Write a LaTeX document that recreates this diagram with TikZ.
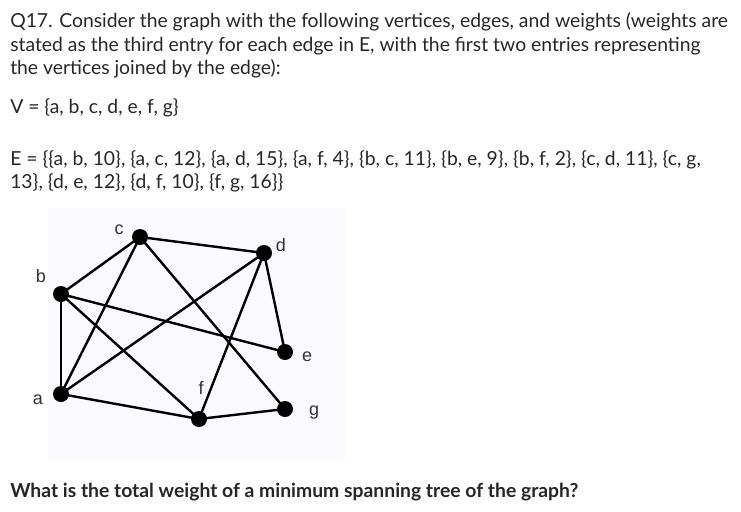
\documentclass[tikz,border=0pt]{standalone}
\usepackage{fontspec}
\setmainfont{Lato}
\setsansfont{Liberation Sans}
\begin{document}
\begin{tikzpicture}[x=0.75pt,y=-0.75pt,
  vtx/.style={circle,fill=black,inner sep=0pt,minimum size=12pt},
  lbl/.style={font=\sffamily\fontsize{13.5}{13.5}\selectfont,inner sep=0pt,text=black!80},
  txt/.style={anchor=west,inner sep=0pt,font=\fontsize{14.5}{14.5}\selectfont,text=black!85},
  edge/.style={line width=1.8pt}]
\useasboundingbox (0,0) rectangle (741,511);
\fill[blue!2!white] (48,208) rectangle (345,460);
\node[txt] (t1) at (10,22) {Q17. Consider the graph with the following vertices, edges, and weights (weights are};
\node[txt] (t2) at (10,46) {stated as the third entry for each edge in E, with the first two entries representing};
\node[txt] (t3) at (10,69) {the vertices joined by the edge):};
\node[txt] (t4) at (10,108) {V = \{a, b, c, d, e, f, g\}};
\node[txt] (t5) at (10,160) {E = \{\{a, b, 10\}, \{a, c, 12\}, \{a, d, 15\}, \{a, f, 4\}, \{b, c, 11\}, \{b, e, 9\}, \{b, f, 2\}, \{c, d, 11\}, \{c, g,};
\node[txt] (t6) at (10,183) {13\}, \{d, e, 12\}, \{d, f, 10\}, \{f, g, 16\}\}};
\node[txt,font=\bfseries\fontsize{14.5}{14.5}\selectfont] (t7) at (10,492) {What is the total weight of a minimum spanning tree of the graph?};
\node[vtx] (c) at (140,237) {};
\node[vtx] (d) at (264,253) {};
\node[vtx] (b) at (61,294) {};
\node[vtx] (e) at (285,352) {};
\node[vtx] (a) at (61,394) {};
\node[vtx] (f) at (199,419) {};
\node[vtx] (g) at (285,409) {};
\node[lbl] (lc) at (119,230) {c};
\node[lbl] (ld) at (281,245) {d};
\node[lbl] (lb) at (41,276) {b};
\node[lbl] (le) at (307,357) {e};
\node[lbl] (la) at (38,400) {a};
\node[lbl] (lf) at (201,388) {f};
\node[lbl] (lg) at (314,413) {g};
\foreach \u/\v in {a/b,a/c,a/d,a/f,b/c,b/e,b/f,c/d,c/g,d/e,d/f,f/g}
  \draw[edge] (\u.center) -- (\v.center);
\end{tikzpicture}
\end{document}
